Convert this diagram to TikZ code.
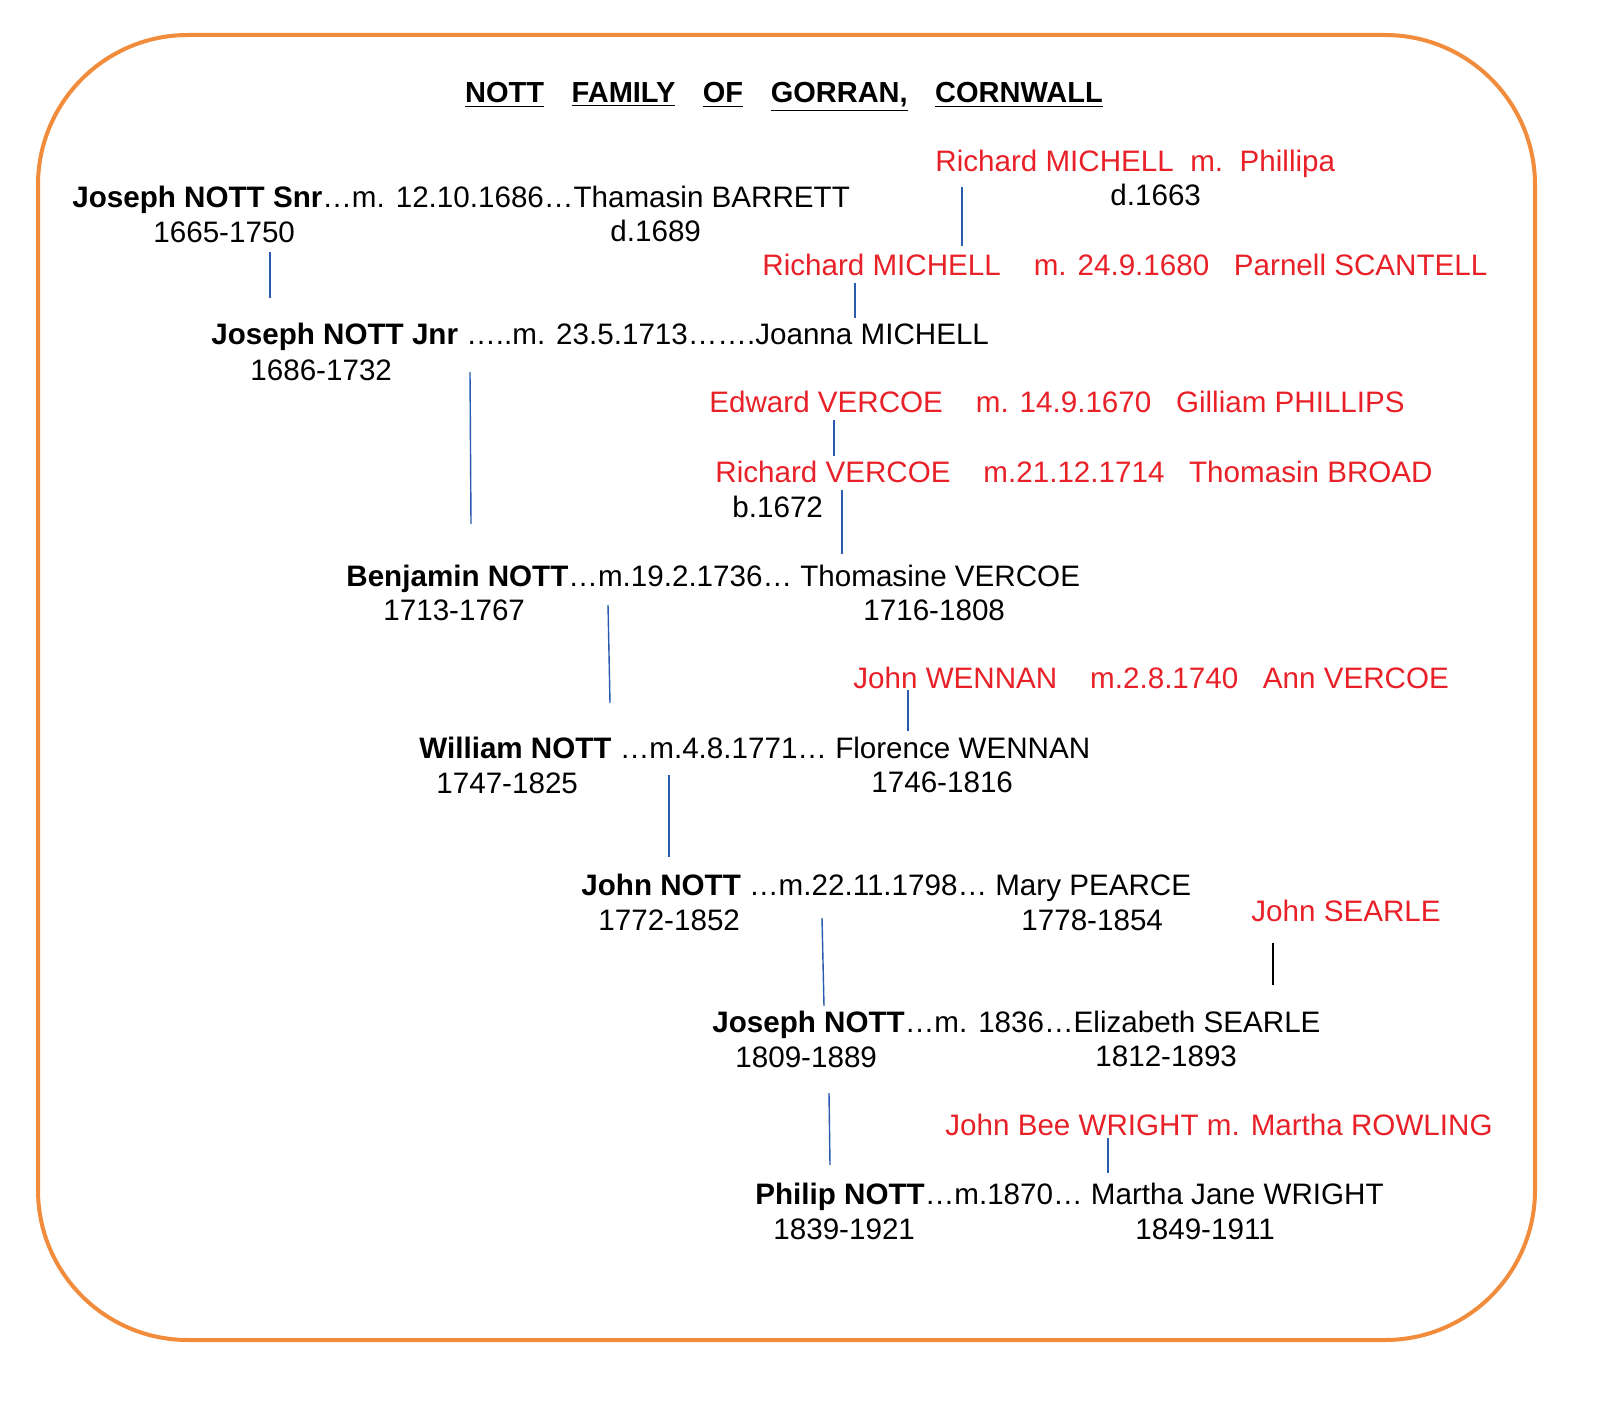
\documentclass[tikz,border=0pt]{standalone}
\usepackage{fontspec}
\setmainfont{Liberation Sans}
\definecolor{fred}{RGB}{232,32,40}
\definecolor{fblue}{RGB}{40,90,175}
\definecolor{forange}{RGB}{240,140,60}
\begin{document}
\begin{tikzpicture}[x=0.5pt,y=-0.5pt,
  txt/.style={anchor=base west,inner sep=0pt,font=\fontsize{14.8}{17}\selectfont},
  rtxt/.style={txt,text=fred},
  link/.style={draw=fblue,line width=0.7pt},
  blink/.style={draw=black,line width=0.7pt}]
\useasboundingbox (0,0) rectangle (1600,1401);
\draw[forange,line width=2pt,rounded corners=75pt] (38,35) rectangle (1535,1340);
\node[txt,anchor=base,font=\fontsize{14.5}{17}\selectfont\bfseries] (title) at (784,103) {\underline{NOTT}\hspace{0.95em}\underline{FAMILY}\hspace{0.95em}\underline{OF}\hspace{0.95em}\underline{GORRAN,}\hspace{0.95em}\underline{CORNWALL}};
\node[rtxt] (rm1) at (935,172) {Richard MICHELL\ \ m.\ \ Phillipa};
\node[txt] (rm1d) at (1110,206) {d.1663};
\node[txt] (js) at (72,208) {\textbf{Joseph NOTT Snr}…m. 12.10.1686…Thamasin BARRETT};
\node[txt] (jsd) at (153,243) {1665-1750};
\node[txt] (tbd) at (610,242) {d.1689};
\node[rtxt] (rm2) at (762,276) {Richard MICHELL\ \ \ \ m. 24.9.1680\ \ \ Parnell SCANTELL};
\node[txt] (jj) at (211,345) {\textbf{Joseph NOTT Jnr} …..m. 23.5.1713…….Joanna MICHELL};
\node[txt] (jjd) at (250,380) {1686-1732};
\node[rtxt] (ev) at (709,413) {Edward VERCOE\ \ \ \ m. 14.9.1670\ \ \ Gilliam PHILLIPS};
\node[rtxt] (rv) at (715,482) {Richard VERCOE\ \ \ \ m.21.12.1714\ \ \ Thomasin BROAD};
\node[txt] (rvd) at (732,517) {b.1672};
\node[txt] (bn) at (346,586) {\textbf{Benjamin NOTT}…m.19.2.1736… Thomasine VERCOE};
\node[txt] (bnd) at (383,620) {1713-1767};
\node[txt] (tvd) at (863,620) {1716-1808};
\node[rtxt] (jw) at (853,688) {John WENNAN\ \ \ \ m.2.8.1740\ \ \ Ann VERCOE};
\node[txt] (wn) at (419,758) {\textbf{William NOTT} …m.4.8.1771… Florence WENNAN};
\node[txt] (wnd) at (436,793) {1747-1825};
\node[txt] (fwd) at (871,792) {1746-1816};
\node[txt] (jn) at (581,895) {\textbf{John NOTT} …m.22.11.1798… Mary PEARCE};
\node[txt] (jnd) at (598,930) {1772-1852};
\node[txt] (mpd) at (1021,930) {1778-1854};
\node[rtxt] (jsr) at (1251,921) {John SEARLE};
\node[txt] (jo) at (712,1032) {\textbf{Joseph NOTT}…m. 1836…Elizabeth SEARLE};
\node[txt] (jod) at (735,1067) {1809-1889};
\node[txt] (esd) at (1095,1066) {1812-1893};
\node[rtxt] (jbw) at (945,1135) {John Bee WRIGHT m. Martha ROWLING};
\node[txt] (pn) at (755,1204) {\textbf{Philip NOTT}…m.1870… Martha Jane WRIGHT};
\node[txt] (pnd) at (773,1239) {1839-1921};
\node[txt] (mjd) at (1135,1239) {1849-1911};
\coordinate (a1) at (270,252); \coordinate (a2) at (270,298);
\coordinate (b1) at (962,187); \coordinate (b2) at (962,246);
\coordinate (c1) at (855,283); \coordinate (c2) at (855,318);
\coordinate (d1) at (470,372); \coordinate (d2) at (471,524);
\coordinate (e1) at (834,420); \coordinate (e2) at (834,456);
\coordinate (f1) at (842,490); \coordinate (f2) at (842,554);
\coordinate (g1) at (608,605); \coordinate (g2) at (610,703);
\coordinate (h1) at (908,690); \coordinate (h2) at (908,731);
\coordinate (i1) at (669,775); \coordinate (i2) at (669,857);
\coordinate (j1) at (1273,943); \coordinate (j2) at (1273,985);
\coordinate (k1) at (822,918); \coordinate (k2) at (824,1006);
\coordinate (l1) at (829,1093); \coordinate (l2) at (830,1165);
\coordinate (m1) at (1108,1138); \coordinate (m2) at (1108,1173);
\draw[link] (a1)--(a2); \draw[link] (b1)--(b2); \draw[link] (c1)--(c2);
\draw[link] (d1)--(d2); \draw[link] (e1)--(e2); \draw[link] (f1)--(f2);
\draw[link] (g1)--(g2); \draw[link] (h1)--(h2); \draw[link] (i1)--(i2);
\draw[blink] (j1)--(j2); \draw[link] (k1)--(k2); \draw[link] (l1)--(l2);
\draw[link] (m1)--(m2);
\end{tikzpicture}
\end{document}
